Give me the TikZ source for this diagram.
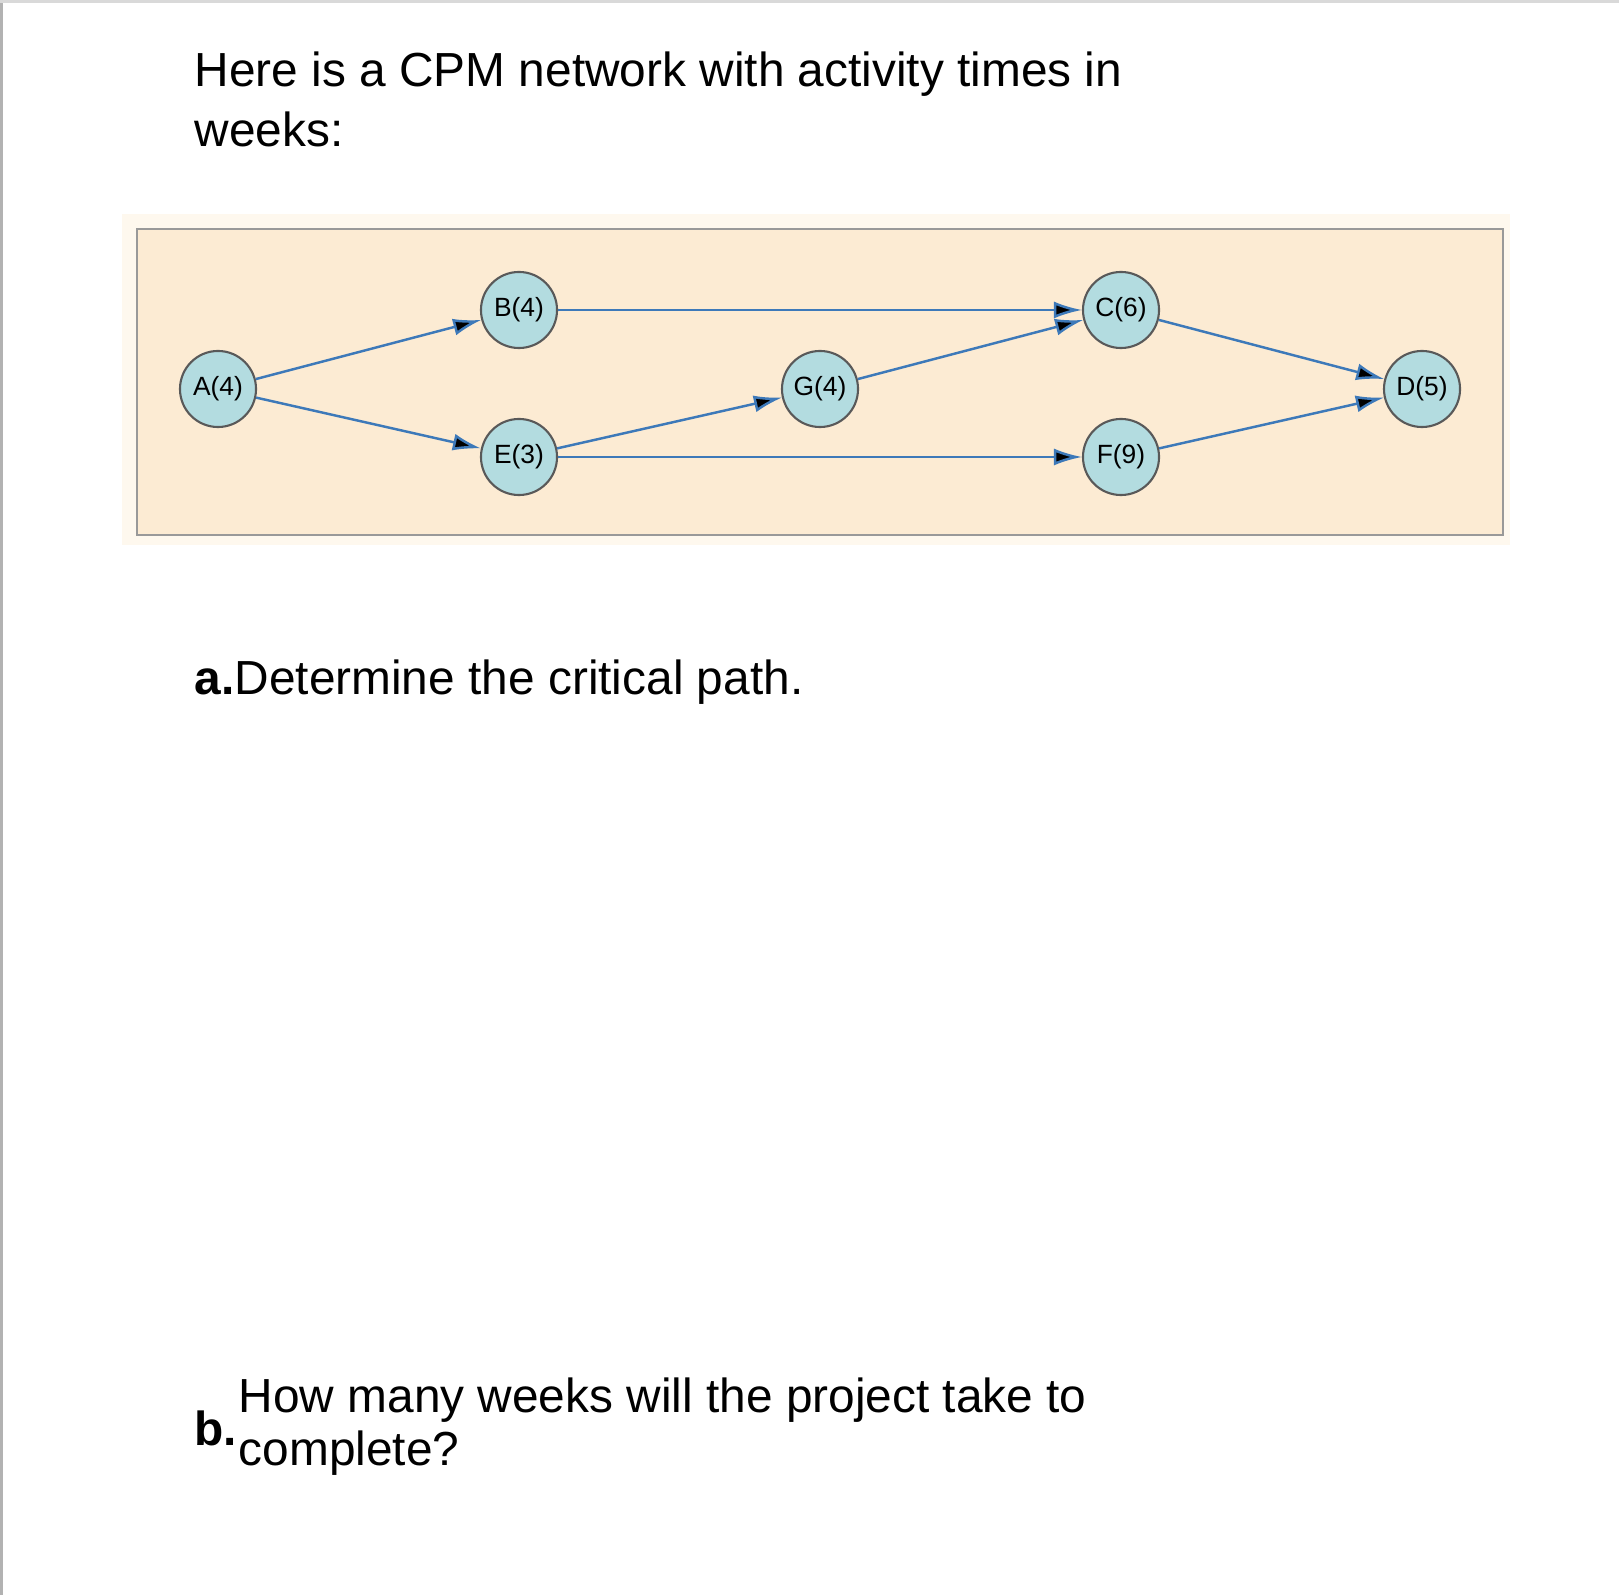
\documentclass[tikz,border=0pt]{standalone}
\usepackage{fontspec}
\setmainfont{Liberation Sans}
\usetikzlibrary{arrows.meta,positioning}
\definecolor{panelfill}{HTML}{FCEBD3}
\definecolor{panelhalo}{HTML}{FEF8EE}
\definecolor{actfill}{HTML}{B3DCE0}
\definecolor{flowblue}{HTML}{3D79B9}
\tikzset{
  act/.style={circle,draw=gray!70!black,fill=actfill,minimum size=0.76cm,inner sep=0pt,font=\fontsize{7.5}{8}\selectfont,line width=0.6pt},
  flow/.style={-{Latex[length=0.28cm,width=0.17cm]},draw=flowblue,line width=0.7pt},
  txt/.style={anchor=west,inner sep=0pt,font=\fontsize{13.6}{15.5}\selectfont}
}
\begin{document}
\begin{tikzpicture}[x=0.01cm,y=-0.01cm]
    \useasboundingbox (0,0) rectangle (1619,1595);
    \fill[white] (0,0) rectangle (1619,1595);
    \draw[gray!60,line width=1pt] (1,0) -- (1,1595);
    \draw[gray!30,line width=1pt] (0,1) -- (1619,1) ;
    %question text
    \node[txt] (q1) at (194,74) {Here is a CPM network with activity times in};
    \node[txt] (q2) at (194,129) {weeks:};
    %panel
    \fill[panelhalo] (122,214) rectangle (1510,545);
    \draw[fill=panelfill,draw=gray!80,line width=0.8pt] (137,229) rectangle (1503,535);
    %activities
    \node[act] (A) at (218,389) {A(4)};
    \node[act] (B) at (519,310) {B(4)};
    \node[act] (E) at (519,457) {E(3)};
    \node[act] (G) at (820,389) {G(4)};
    \node[act] (C) at (1121,310) {C(6)};
    \node[act] (F) at (1121,457) {F(9)};
    \node[act] (D) at (1422,389) {D(5)};
    %edges
    \path[flow]
     (A) edge (B)
     (A) edge (E)
     (B) edge (C)
     (E) edge (G)
     (E) edge (F)
     (G) edge (C)
     (C) edge (D)
     (F) edge (D);
    %questions
    \node[txt] (qa) at (194,682) {\textbf{a.}Determine the critical path.};
    \node[txt] (qb) at (194,1428) {\textbf{b.}};
    \node[txt] (qb1) at (238,1400) {How many weeks will the project take to};
    \node[txt] (qb2) at (238,1453) {complete?};
\end{tikzpicture}
\end{document}
